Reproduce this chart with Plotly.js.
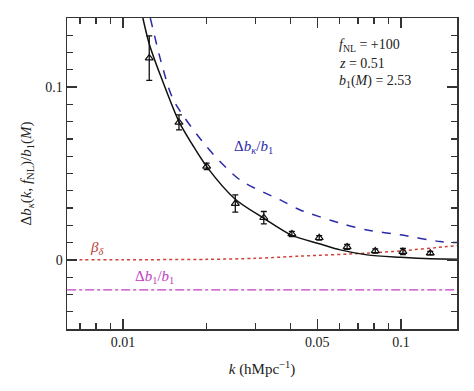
<!DOCTYPE html>
<html><head><meta charset="utf-8">
<script src="https://cdn.plot.ly/plotly-3.0.1.min.js"></script>
<style>html,body{margin:0;padding:0;background:#fff}</style>
</head><body><div id="chart" style="width:474px;height:391px"></div>
<script>
// simulation points
const kPts = [0.01243, 0.0159, 0.0200, 0.02535, 0.0321, 0.0405, 0.0508, 0.0640, 0.0808, 0.1016, 0.1274];
const bPts = [0.1168, 0.0796, 0.0541, 0.0326, 0.0244, 0.0150, 0.0128, 0.0075, 0.0052, 0.0048, 0.0039];
const errPts = [0.0129, 0.0043, 0.0019, 0.0050, 0.0036, 0.0015, 0.0013, 0.0014, 0.0012, 0.0018, 0.0010];
// model (solid)
const kModel = [0.01179, 0.01243, 0.01362, 0.0159, 0.0178, 0.0200, 0.02535, 0.0321, 0.0405, 0.0513, 0.0605, 0.0755, 0.0994, 0.1274, 0.159];
const bModel = [0.140, 0.125, 0.107, 0.080, 0.0665, 0.054, 0.0351, 0.0241, 0.0142, 0.0092, 0.0058, 0.0029, 0.0015, 0.0006, 0.0004];
// Δb_κ/b_1 (dashed)
const kKappa = [0.01254, 0.0138, 0.0152, 0.0200, 0.0264, 0.0368, 0.0434, 0.0621, 0.0755, 0.0994, 0.1385, 0.159];
const bKappa = [0.140, 0.113, 0.0925, 0.0655, 0.0462, 0.0347, 0.0289, 0.0207, 0.0173, 0.0145, 0.0106, 0.0100];
// β_δ (dotted)
const kBeta = [0.0063, 0.01, 0.02, 0.03, 0.0434, 0.0755, 0.0994, 0.1464, 0.159];
const bBeta = [0.0, 0.0001, 0.0003, 0.0009, 0.0022, 0.0039, 0.0052, 0.0077, 0.0082];
// Δb_1/b_1 (dash-dot)
const kB1 = [0.0063, 0.159];
const bB1 = [-0.0173, -0.0173];

const xTickVals = [0.01, 0.05, 0.1];
const xTickText = ["0.01", "0.05", "0.1"];
const xMinorVals = [0.007, 0.008, 0.009, 0.02, 0.03, 0.04, 0.06, 0.07, 0.08, 0.09];
const yTickVals = [0, 0.1];
const yTickText = ["0", "0.1"];
const yMinorVals = [-0.03, -0.02, -0.01, 0.01, 0.02, 0.03, 0.04, 0.05, 0.06, 0.07, 0.08, 0.09, 0.11, 0.12, 0.13];

const serif = "Liberation Serif, DejaVu Serif, serif";
const traces = [
  {x: kBeta, y: bBeta, mode: 'lines', line: {color: '#d0403a', dash: 'dot', width: 1.5, shape: 'spline', smoothing: 0.8}},
  {x: kB1, y: bB1, mode: 'lines', line: {color: '#c23cc2', dash: 'dashdot', width: 1.3}},
  {x: kKappa, y: bKappa, mode: 'lines', line: {color: '#2b2ba8', dash: 'dash', width: 1.5, shape: 'spline', smoothing: 0.8}},
  {x: kModel, y: bModel, mode: 'lines', line: {color: '#111', width: 1.5, shape: 'spline', smoothing: 0.8}},
  {x: kPts, y: bPts, mode: 'markers',
   marker: {symbol: 'triangle-up-open', size: 7, color: '#111', line: {width: 1.2}},
   error_y: {type: 'data', array: errPts, visible: true, color: '#111', thickness: 1.3, width: 3}}
];

const layout = {
  width: 474, height: 391,
  margin: {l: 66.7, r: 17.3, t: 18, b: 62},
  showlegend: false,
  paper_bgcolor: '#fff', plot_bgcolor: '#fff',
  font: {family: serif, size: 14, color: '#222'},
  xaxis: {
    type: 'log', range: [Math.log10(0.00629), Math.log10(0.159)],
    tickvals: xTickVals, ticktext: xTickText,
    ticks: 'inside', ticklen: 10, tickwidth: 1.3, tickcolor: '#333',
    minor: {tickvals: xMinorVals, ticks: 'inside', ticklen: 6, tickwidth: 1.3, tickcolor: '#333'},
    showline: true, linecolor: '#333', linewidth: 1.5, mirror: 'ticks',
    showgrid: false, zeroline: false,
    tickfont: {family: serif, size: 14, color: '#222'},
    title: {text: '<i>k</i> (hMpc<sup>−1</sup>)', font: {family: serif, size: 15, color: '#222'}, standoff: 14}
  },
  yaxis: {
    range: [-0.04, 0.14],
    tickvals: yTickVals, ticktext: yTickText,
    ticks: 'inside', ticklen: 10, tickwidth: 1.3, tickcolor: '#333',
    minor: {tickvals: yMinorVals, ticks: 'inside', ticklen: 6, tickwidth: 1.3, tickcolor: '#333'},
    showline: true, linecolor: '#333', linewidth: 1.5, mirror: 'ticks',
    showgrid: false, zeroline: false,
    tickfont: {family: serif, size: 14, color: '#222'},
    title: {text: 'Δ<i>b</i><sub><i>κ</i></sub>(<i>k</i>, <i>f</i><sub>NL</sub>)/<i>b</i><sub>1</sub>(<i>M</i>)', font: {family: serif, size: 15, color: '#222'}, standoff: 10}
  },
  annotations: [
    {xref: 'paper', yref: 'paper', x: (337-66.7)/390, y: 1-(45-18)/311, xanchor: 'left', yanchor: 'middle', showarrow: false,
     text: '<i>f</i><sub>NL</sub> = +100', font: {family: serif, size: 14, color: '#222'}},
    {xref: 'paper', yref: 'paper', x: (337-66.7)/390, y: 1-(64-18)/311, xanchor: 'left', yanchor: 'middle', showarrow: false,
     text: '<i>z</i> = 0.51', font: {family: serif, size: 14, color: '#222'}},
    {xref: 'paper', yref: 'paper', x: (337-66.7)/390, y: 1-(82-18)/311, xanchor: 'left', yanchor: 'middle', showarrow: false,
     text: '<i>b</i><sub>1</sub>(<i>M</i>) = 2.53', font: {family: serif, size: 14, color: '#222'}},
    {xref: 'paper', yref: 'paper', x: (253-66.7)/390, y: 1-(147-18)/311, xanchor: 'center', yanchor: 'middle', showarrow: false,
     text: 'Δ<i>b</i><sub><i>κ</i></sub>/<i>b</i><sub>1</sub>', font: {family: serif, size: 15, color: '#2b2ba8'}},
    {xref: 'paper', yref: 'paper', x: (97-66.7)/390, y: 1-(248-18)/311, xanchor: 'center', yanchor: 'middle', showarrow: false,
     text: '<i>β</i><sub><i>δ</i></sub>', font: {family: serif, size: 15, color: '#c0403a'}},
    {xref: 'paper', yref: 'paper', x: (154-66.7)/390, y: 1-(277-18)/311, xanchor: 'center', yanchor: 'middle', showarrow: false,
     text: 'Δ<i>b</i><sub>1</sub>/<i>b</i><sub>1</sub>', font: {family: serif, size: 15, color: '#c23cc2'}}
  ]
};
Plotly.newPlot('chart', traces, layout, {displayModeBar: false, staticPlot: true});
</script></body></html>
